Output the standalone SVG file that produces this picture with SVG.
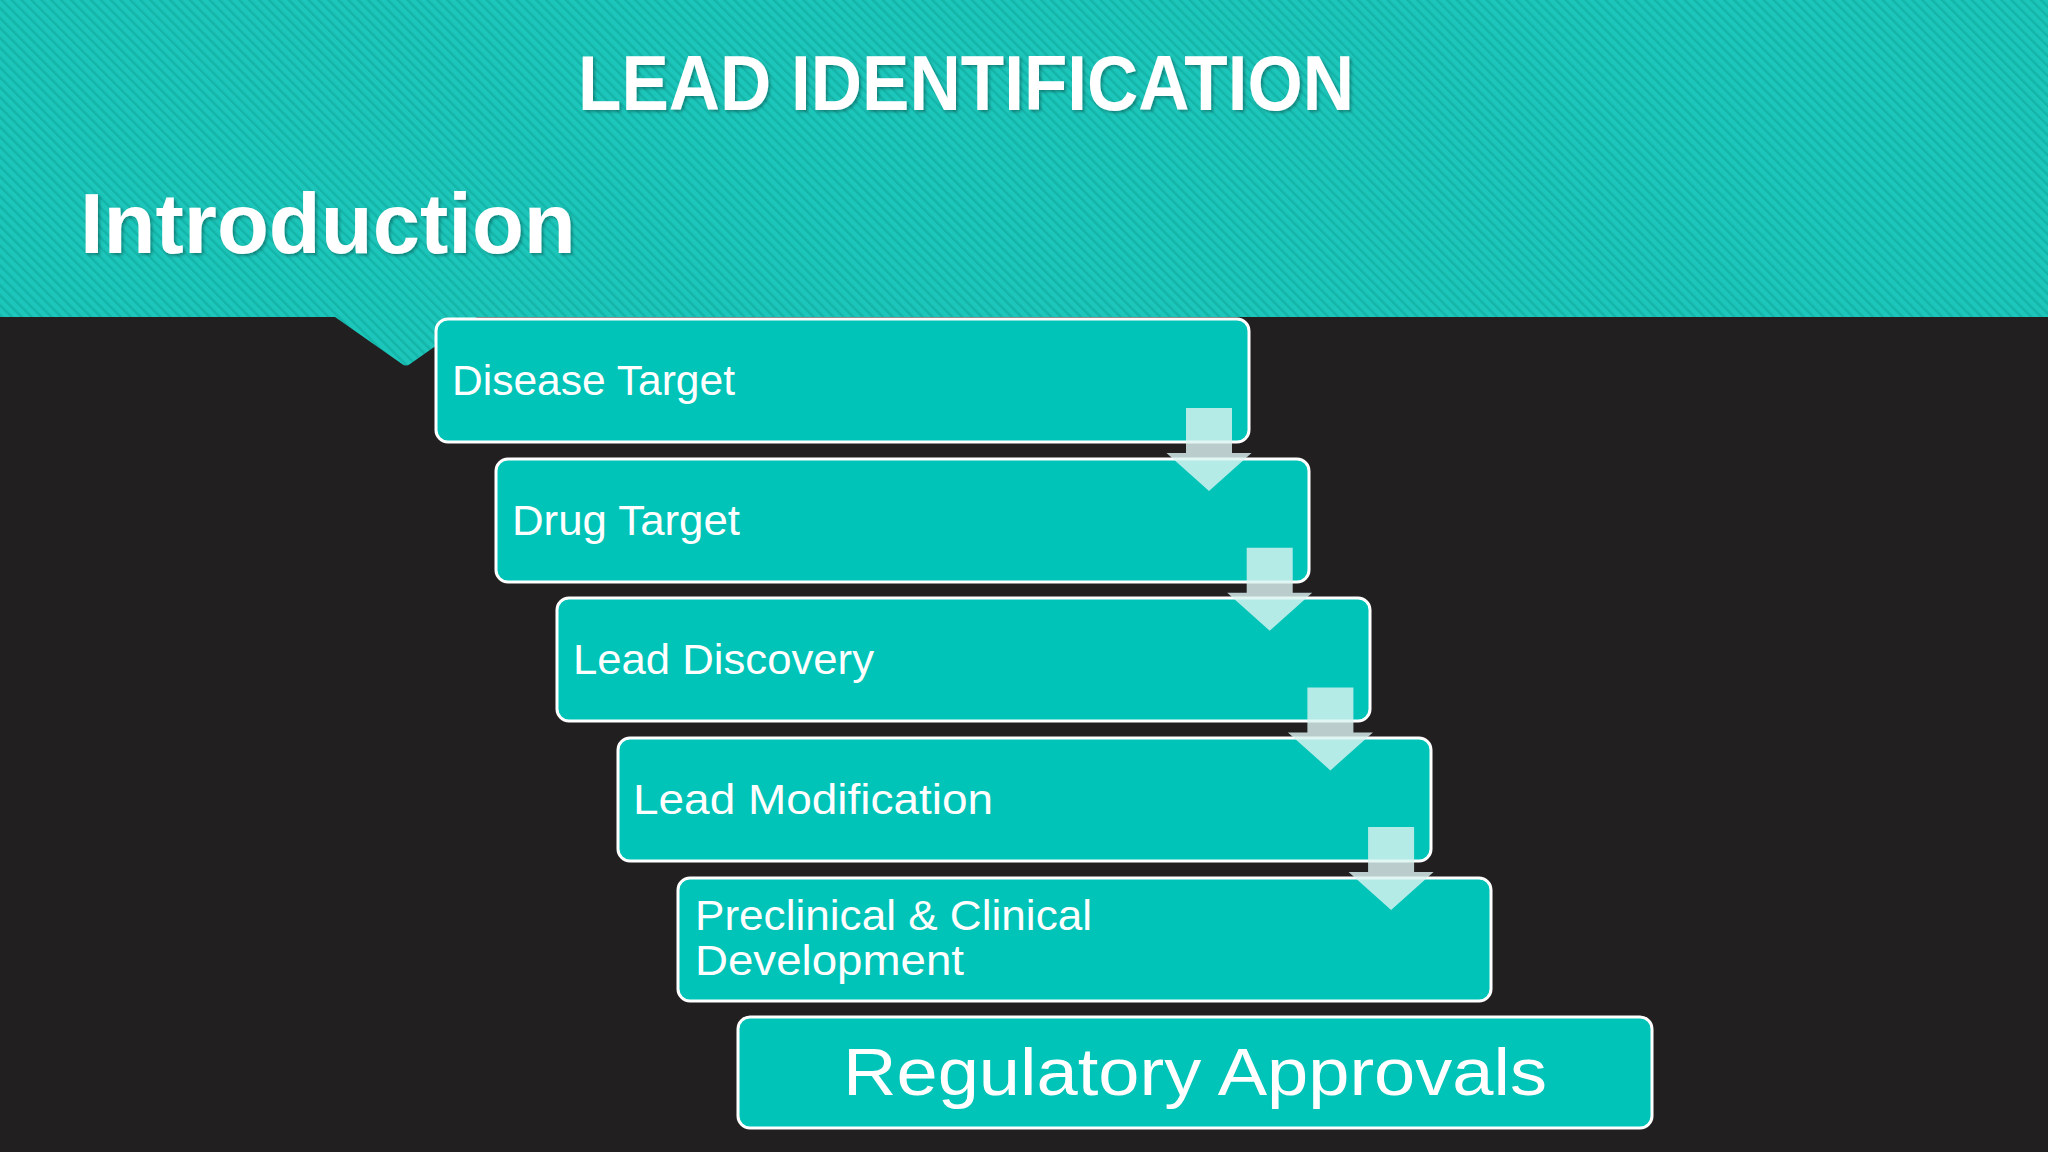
<svg xmlns="http://www.w3.org/2000/svg" width="2048" height="1152" viewBox="0 0 2048 1152">
  <style>
    .box { fill: #00C4B8; stroke: #FFFFFF; stroke-width: 3; }
    .lbl { font-family: "Liberation Sans", Arial, sans-serif; font-size: 42px; fill: #FFFFFF; }
    .big { font-family: "Liberation Sans", Arial, sans-serif; font-size: 67px; fill: #FFFFFF; }
    .head { font-family: "Liberation Sans", Arial, sans-serif; font-weight: bold; fill: #FFFFFF; }
    .arrow { fill: #DCF4F1; fill-opacity: 0.82; }
  </style>
  <defs>
    <pattern id="stripes" width="7" height="7" patternUnits="userSpaceOnUse" patternTransform="rotate(-45)">
      <rect width="7" height="7" fill="#1DC6BA"/>
      <rect width="2.5" height="7" fill="#15B4A9"/>
    </pattern>
    <filter id="shadow" x="-5%" y="-20%" width="110%" height="140%">
      <feDropShadow dx="2" dy="2" stdDeviation="1.5" flood-color="#000000" flood-opacity="0.3"/>
    </filter>
  </defs>

  <rect width="2048" height="1152" fill="#221F21"/>

  <g id="header">
    <path d="M0 0 H2048 V317 H477 L410 364 Q406 367 402 364 L335 317 H0 Z" fill="url(#stripes)"/>
    <text class="head" x="966" y="110" font-size="78" text-anchor="middle" textLength="776" lengthAdjust="spacingAndGlyphs" filter="url(#shadow)">LEAD IDENTIFICATION</text>
    <text class="head" x="80" y="253" font-size="85" filter="url(#shadow)">Introduction</text>
  </g>

  <g id="node-disease-target">
    <rect class="box" x="436" y="319" width="813" height="123" rx="12"/>
    <text class="lbl" x="452" y="395" textLength="283" lengthAdjust="spacingAndGlyphs">Disease Target</text>
  </g>
  <g id="node-drug-target">
    <rect class="box" x="496" y="459" width="813" height="123" rx="12"/>
    <text class="lbl" x="512" y="535" textLength="228" lengthAdjust="spacingAndGlyphs">Drug Target</text>
  </g>
  <g id="node-lead-discovery">
    <rect class="box" x="557" y="598" width="813" height="123" rx="12"/>
    <text class="lbl" x="573" y="674" textLength="301" lengthAdjust="spacingAndGlyphs">Lead Discovery</text>
  </g>
  <g id="node-lead-modification">
    <rect class="box" x="618" y="738" width="813" height="123" rx="12"/>
    <text class="lbl" x="633" y="814" textLength="360" lengthAdjust="spacingAndGlyphs">Lead Modification</text>
  </g>
  <g id="node-preclinical">
    <rect class="box" x="678" y="878" width="813" height="123" rx="12"/>
    <text class="lbl" x="695" y="930" textLength="397" lengthAdjust="spacingAndGlyphs">Preclinical &amp; Clinical</text>
    <text class="lbl" x="695" y="975" textLength="269" lengthAdjust="spacingAndGlyphs">Development</text>
  </g>
  <g id="node-regulatory">
    <rect class="box" x="738" y="1017" width="914" height="111" rx="12"/>
    <text class="big" x="1195" y="1095" text-anchor="middle" textLength="704" lengthAdjust="spacingAndGlyphs">Regulatory Approvals</text>
  </g>

  <g id="connectors">
    <path class="arrow" d="M1186 408 H1232 V453 H1251.5 L1209 491 L1166.5 453 H1186 Z"/>
    <path class="arrow" transform="translate(60.7 139.7)" d="M1186 408 H1232 V453 H1251.5 L1209 491 L1166.5 453 H1186 Z"/>
    <path class="arrow" transform="translate(121.4 279.4)" d="M1186 408 H1232 V453 H1251.5 L1209 491 L1166.5 453 H1186 Z"/>
    <path class="arrow" transform="translate(182.1 419.1)" d="M1186 408 H1232 V453 H1251.5 L1209 491 L1166.5 453 H1186 Z"/>
  </g>
</svg>
